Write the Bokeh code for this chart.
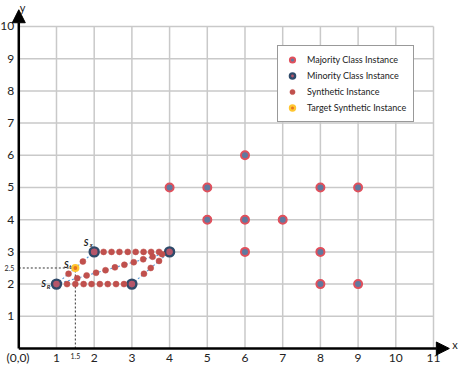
from bokeh.plotting import figure
from bokeh.models import Arrow, NormalHead, Legend, LegendItem
from bokeh.core.properties import value
from bokeh.embed import file_html
from bokeh.resources import INLINE

# ---------------- data ----------------
x_ticks = [1, 2, 3, 4, 5, 6, 7, 8, 9, 10, 11]
y_ticks = [1, 2, 3, 4, 5, 6, 7, 8, 9, 10]
x_tick_labels = ["1", "2", "3", "4", "5", "6", "7", "8", "9", "10", "11"]
y_tick_labels = ["1", "2", "3", "4", "5", "6", "7", "8", "9", "10"]

maj_x = [4, 5, 6, 5, 6, 7, 6, 8, 9, 8, 8, 9]
maj_y = [5, 5, 6, 4, 4, 4, 3, 5, 5, 3, 2, 2]

min_x = [1, 2, 3, 4]
min_y = [2, 3, 2, 3]

syn_x = [2.25, 2.46, 2.67, 2.89, 3.1, 3.31, 3.51, 3.72,
         1.28, 1.5, 1.72, 1.93, 2.15, 2.36, 2.58, 2.79,
         1.55, 1.8, 2.05, 2.3, 2.55, 2.8, 3.05, 3.3, 3.55, 3.8,
         1.32, 1.7,
         3.32, 3.5, 3.72]
syn_y = [3, 3, 3, 3, 3, 3, 3, 3,
         2, 2, 2, 2, 2, 2, 2, 2,
         2.18, 2.27, 2.35, 2.43, 2.52, 2.6, 2.68, 2.77, 2.85, 2.93,
         2.32, 2.7,
         2.32, 2.5, 2.72]

target_x = [1.5]
target_y = [2.5]

# neighbour links (minority pairs)
link_x0 = [1, 1, 3]
link_y0 = [2, 2, 2]
link_x1 = [2, 4, 4]
link_y1 = [3, 3, 3]

FONT = "Lato"

p = figure(width=458, height=365, x_range=(-0.485, 11.663), y_range=(-0.528, 10.807),
           x_axis_type=None, y_axis_type=None, min_border=0,
           toolbar_location=None, output_backend="svg")
p.grid.visible = False
p.outline_line_color = None
p.background_fill_color = "white"

# grid lines
n_x = len(x_ticks)
n_y = len(y_ticks)
p.segment(x0=x_ticks, y0=[0] * n_x, x1=x_ticks, y1=[max(y_ticks)] * n_x,
          line_color="#c9c9c9", line_width=1.5)
p.segment(x0=[0] * n_y, y0=y_ticks, x1=[max(x_ticks)] * n_y, y1=y_ticks,
          line_color="#c9c9c9", line_width=1.5)

# guide dotted lines to the target
p.segment(x0=[0, target_x[0]], y0=[target_y[0], 0], x1=[target_x[0], target_x[0]],
          y1=[target_y[0], target_y[0]], line_color="#333333", line_width=1, line_dash="2 2")

# neighbour links
p.segment(x0=link_x0, y0=link_y0, x1=link_x1, y1=link_y1,
          line_color="#5b9bd5", line_width=1.2, line_dash="2 2")

# axes with arrows
p.add_layout(Arrow(end=NormalHead(size=13, fill_color="black", line_color="black"),
                   x_start=0, y_start=0, x_end=0, y_end=10.52,
                   line_color="black", line_width=2.5))
p.add_layout(Arrow(end=NormalHead(size=13, fill_color="black", line_color="black"),
                   x_start=0, y_start=0, x_end=11.42, y_end=0,
                   line_color="black", line_width=2.5))

# tick labels
p.text(x=[-0.12] * n_y, y=y_ticks, text=y_tick_labels, text_align="right",
       text_baseline="middle", text_font=value(FONT), text_font_size="12px",
       text_color="#222222")
p.text(x=x_ticks, y=[-0.29] * n_x, text=x_tick_labels, text_align="center",
       text_baseline="middle", text_font=value(FONT), text_font_size="12px",
       text_color="#222222")
p.text(x=[-0.02], y=[-0.29], text=["(0,0)"], text_align="center", text_baseline="middle",
       text_font=value(FONT), text_font_size="12px", text_color="#222222")
p.text(x=target_x, y=[-0.24], text=["1.5"], text_align="center", text_baseline="middle",
       text_font=value(FONT), text_font_size="7px", text_color="#222222")
p.text(x=[-0.12], y=target_y, text=["2.5"], text_align="right", text_baseline="middle",
       text_font=value(FONT), text_font_size="7px", text_color="#222222")
p.text(x=[0.1], y=[10.8], text=["y"], text_align="center", text_baseline="top",
       text_font=value(FONT), text_font_size="11px", text_color="#222222")
p.text(x=[11.5], y=[0.12], text=["x"], text_align="left", text_baseline="middle",
       text_font=value(FONT), text_font_size="11px", text_color="#222222")

# points
r_maj = p.scatter(maj_x, maj_y, size=8, fill_color="#60799f", line_color="#e0505c",
                  line_width=2)
r_min = p.scatter(min_x, min_y, size=9, fill_color="#b5566a", line_color="#2f4a6a",
                  line_width=2.4)
r_syn = p.scatter(syn_x, syn_y, size=6, fill_color="#c0504d", line_color="#c0504d",
                  line_width=0.5)
r_tgt = p.scatter(target_x, target_y, size=6, fill_color="#e8741e", line_color="#ffc631",
                  line_width=2.2)

# S labels
lab_x = [1, 1.5, 2]
lab_y = [2, 2.5, 3]
p.text(x=lab_x, y=lab_y, text=["S", "S", "S"], x_offset=[-13, -9, -8], y_offset=[-1, -3, -9],
       text_align="center", text_baseline="middle", text_font=value(FONT),
       text_font_size="9px", text_font_style="bold italic", text_color="#222222")
p.text(x=lab_x, y=lab_y, text=["R", "t", "x"], x_offset=[-8, -5, -3], y_offset=[2, -1, -7],
       text_align="center", text_baseline="middle", text_font=value(FONT),
       text_font_size="6px", text_font_style="bold italic", text_color="#222222")

legend = Legend(items=[
    LegendItem(label="Majority Class Instance", renderers=[r_maj]),
    LegendItem(label="Minority Class Instance", renderers=[r_min]),
    LegendItem(label="Synthetic Instance", renderers=[r_syn]),
    LegendItem(label="Target Synthetic Instance", renderers=[r_tgt]),
], location=(277, 243), orientation="vertical")
legend.label_text_font = FONT
legend.label_text_font_size = "9px"
legend.label_text_color = "#222222"
legend.border_line_color = "#333333"
legend.border_line_width = 1.2
legend.background_fill_color = "white"
legend.background_fill_alpha = 1
legend.padding = 7
legend.spacing = 3
legend.label_height = 13
legend.glyph_height = 13
legend.glyph_width = 14
legend.label_standoff = 8
legend.margin = 0
p.add_layout(legend, "center")

open("out.html", "w").write(file_html(p, INLINE))
